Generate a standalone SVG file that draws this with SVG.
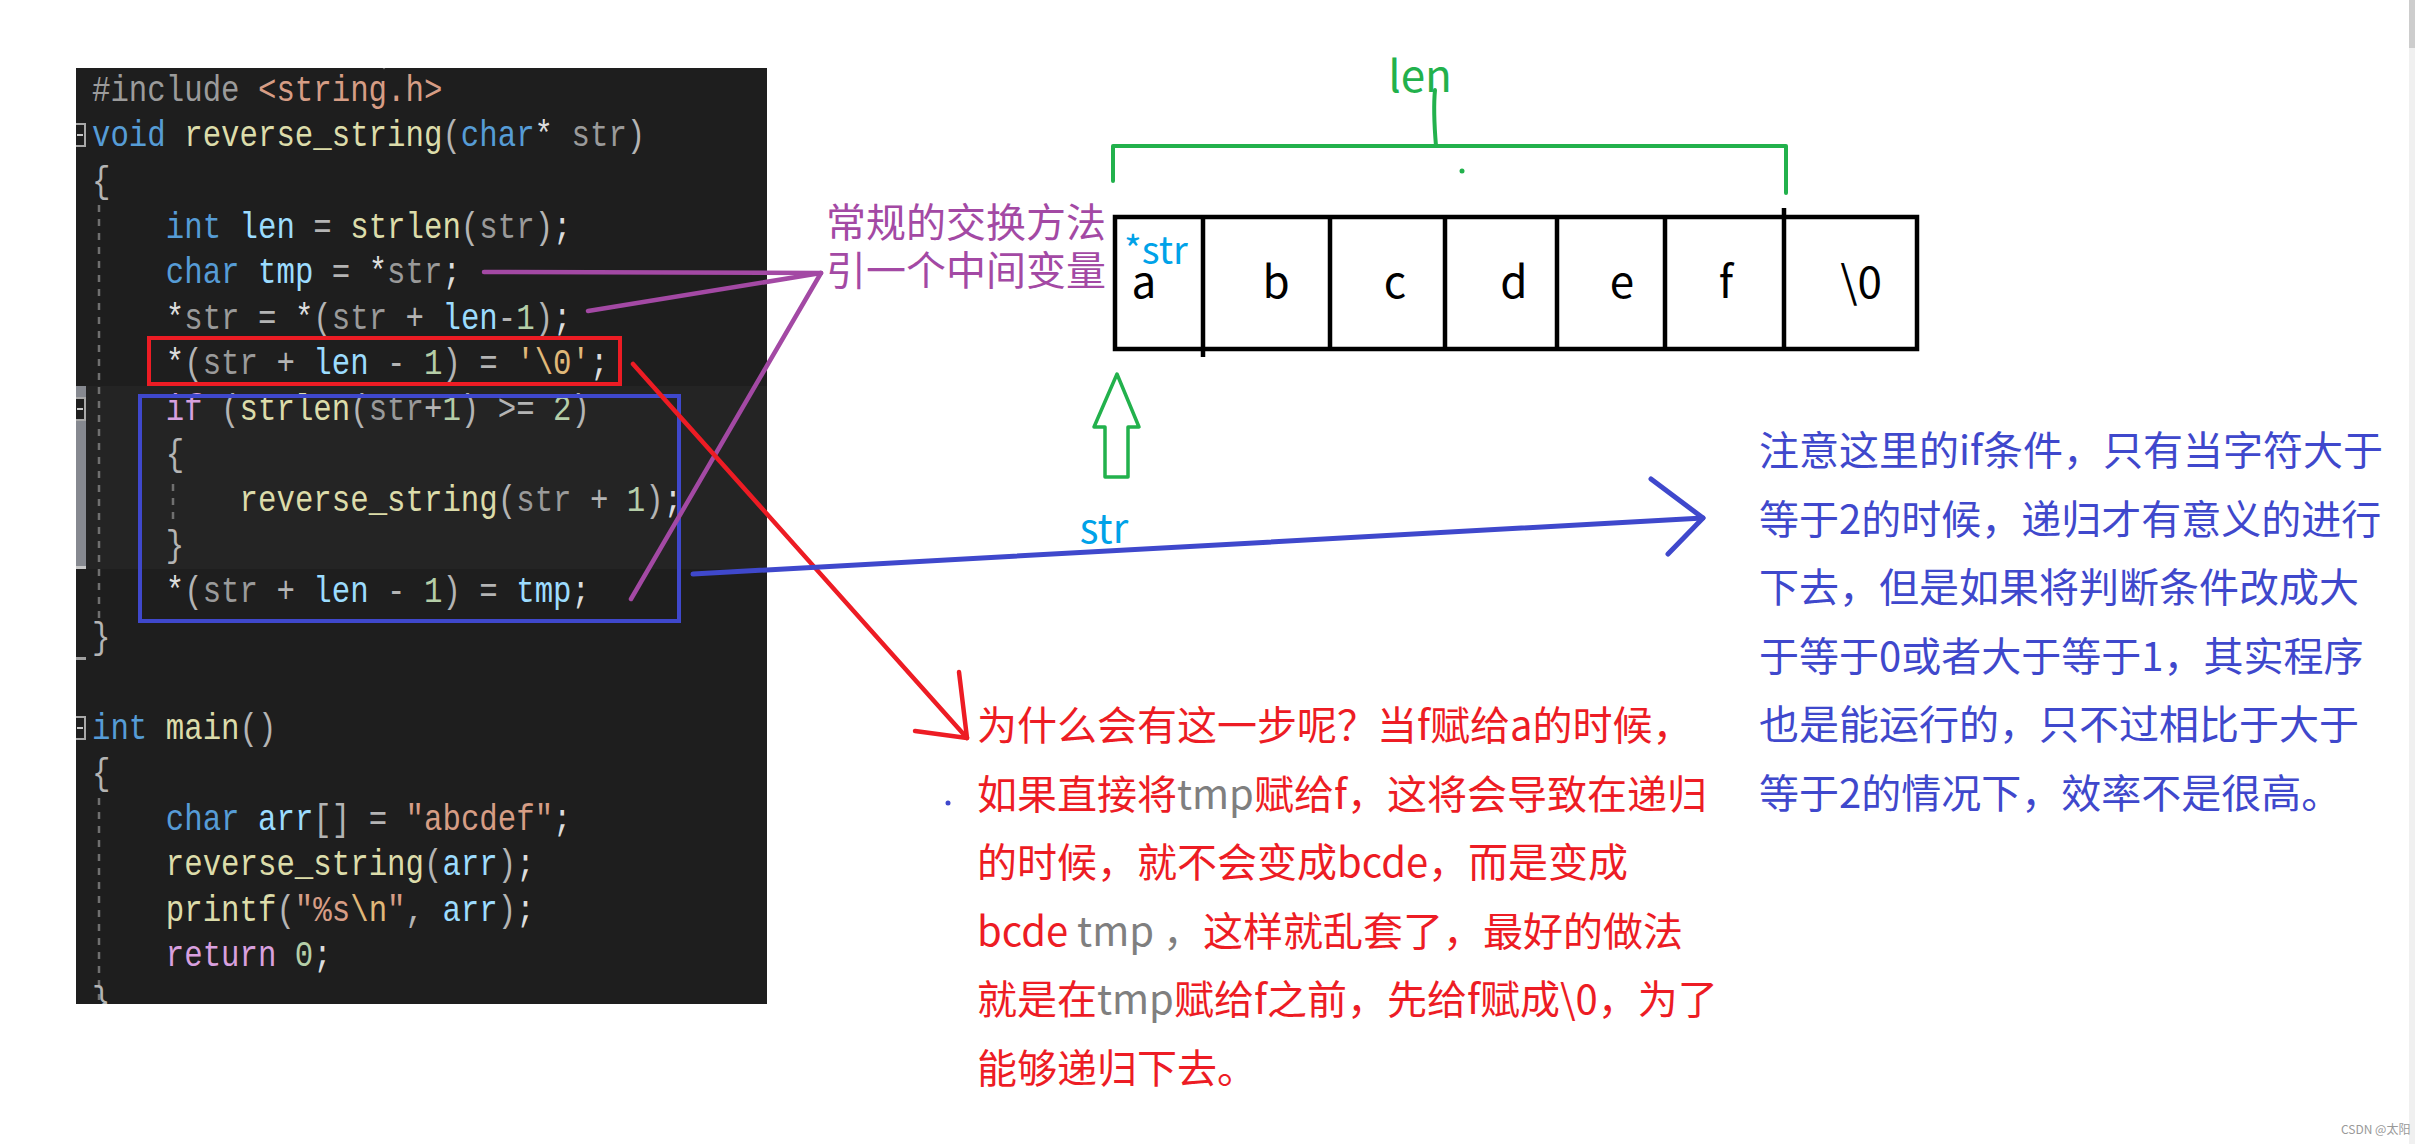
<svg xmlns="http://www.w3.org/2000/svg" width="2415" height="1144" viewBox="0 0 2415 1144">
<defs>
<style>
.code{font-family:"Liberation Mono","DejaVu Sans Mono",monospace;font-size:37px;fill:#b4b4b4}
.k{fill:#569cd6}.f{fill:#dcdcaa}.v{fill:#9cdcfe}.p{fill:#9a9a9a}.o{fill:#b4b4b4}.n{fill:#b5cea8}.s{fill:#d69d85}.e{fill:#e0b878}.c{fill:#d8a0df}.m{fill:#9b9b9b}.w{fill:#dcdcdc}
.note{font-family:"Noto Sans CJK SC","Liberation Sans",sans-serif;font-size:40px}
.lbl{font-family:"Noto Sans CJK SC","Liberation Sans",sans-serif}
.guide{stroke:#707070;stroke-width:2.5;stroke-dasharray:7 7;fill:none}
.fold{fill:#1e1e1e;stroke:#a8a8a8;stroke-width:2}
.pl{stroke:#a349a4;stroke-width:4.5;fill:none;stroke-linecap:round;stroke-linejoin:round}
.rl{stroke:#ed1c24;stroke-width:4.5;fill:none;stroke-linecap:round;stroke-linejoin:round}
.bl{stroke:#3f48cc;stroke-width:5;fill:none;stroke-linecap:round;stroke-linejoin:round}
.gl{stroke:#22b14c;stroke-width:4;fill:none;stroke-linecap:round;stroke-linejoin:round}
.cell{stroke:#000;stroke-width:4.5;fill:none}
.gray{fill:#7f7f7f}
</style>
<clipPath id="panelClip"><rect x="76" y="68" width="691" height="936"/></clipPath>
</defs>
<rect width="2415" height="1144" fill="#ffffff"/>
<rect x="2409" y="0" width="6" height="1144" fill="#f0f0f0"/>
<rect x="2409" y="0" width="6" height="48" fill="#cdcdcd"/>

<g id="code-panel" clip-path="url(#panelClip)">
<rect x="76" y="68" width="691" height="936" fill="#1e1e1e"/>
<rect x="86" y="386" width="681" height="183" fill="#242424"/>
<rect x="76" y="386" width="10" height="182" fill="#868990"/>
<rect x="76" y="566" width="10" height="3" fill="#c8c8c8"/>
<rect x="76" y="657" width="10" height="3" fill="#a0a0a0"/>
<rect x="75" y="124" width="10" height="22" class="fold"/>
<line x1="77" y1="135" x2="83" y2="135" stroke="#c8c8c8" stroke-width="2"/>
<rect x="75" y="398" width="10" height="22" class="fold"/>
<line x1="77" y1="409" x2="83" y2="409" stroke="#c8c8c8" stroke-width="2"/>
<rect x="75" y="717" width="10" height="22" class="fold"/>
<line x1="77" y1="728" x2="83" y2="728" stroke="#c8c8c8" stroke-width="2"/>
<line x1="99" y1="205" x2="99" y2="618" class="guide"/>
<line x1="173" y1="484" x2="173" y2="524" class="guide"/>
<line x1="99" y1="798" x2="99" y2="1000" class="guide"/>
<circle cx="384" cy="68" r="1.2" fill="#666"/>
<g transform="scale(0.831 1)" class="code" xml:space="preserve">
<text x="110.7" y="101"><tspan class="m">#include</tspan><tspan class="s"> &lt;string.h&gt;</tspan></text>
<text x="110.7" y="146.5"><tspan class="k">void</tspan><tspan class="f"> reverse_string</tspan><tspan class="o">(</tspan><tspan class="k">char</tspan><tspan class="w">*</tspan><tspan class="p"> str</tspan><tspan class="o">)</tspan></text>
<text x="110.7" y="192.1" class="o">{</text>
<text x="199.5" y="237.6"><tspan class="k">int</tspan><tspan class="v"> len</tspan><tspan class="o"> = </tspan><tspan class="f">strlen</tspan><tspan class="o">(</tspan><tspan class="p">str</tspan><tspan class="o">)</tspan><tspan class="w">;</tspan></text>
<text x="199.5" y="283.2"><tspan class="k">char</tspan><tspan class="v"> tmp</tspan><tspan class="o"> = </tspan><tspan class="w">*</tspan><tspan class="p">str</tspan><tspan class="w">;</tspan></text>
<text x="199.5" y="328.7"><tspan class="w">*</tspan><tspan class="p">str</tspan><tspan class="o"> = </tspan><tspan class="w">*</tspan><tspan class="o">(</tspan><tspan class="p">str</tspan><tspan class="o"> + </tspan><tspan class="v">len</tspan><tspan class="o">-</tspan><tspan class="n">1</tspan><tspan class="o">)</tspan><tspan class="w">;</tspan></text>
<text x="199.5" y="374.3"><tspan class="w">*</tspan><tspan class="o">(</tspan><tspan class="p">str</tspan><tspan class="o"> + </tspan><tspan class="v">len</tspan><tspan class="o"> - </tspan><tspan class="n">1</tspan><tspan class="o">) = </tspan><tspan class="e">'\0'</tspan><tspan class="w">;</tspan></text>
<text x="199.5" y="419.8"><tspan class="c">if</tspan><tspan class="o"> (</tspan><tspan class="f">strlen</tspan><tspan class="o">(</tspan><tspan class="p">str</tspan><tspan class="o">+</tspan><tspan class="n">1</tspan><tspan class="o">) &gt;= </tspan><tspan class="n">2</tspan><tspan class="o">)</tspan></text>
<text x="199.5" y="465.4" class="o">{</text>
<text x="288.3" y="510.9"><tspan class="f">reverse_string</tspan><tspan class="o">(</tspan><tspan class="p">str</tspan><tspan class="o"> + </tspan><tspan class="n">1</tspan><tspan class="o">)</tspan><tspan class="w">;</tspan></text>
<text x="199.5" y="556.5" class="o">}</text>
<text x="199.5" y="602"><tspan class="w">*</tspan><tspan class="o">(</tspan><tspan class="p">str</tspan><tspan class="o"> + </tspan><tspan class="v">len</tspan><tspan class="o"> - </tspan><tspan class="n">1</tspan><tspan class="o">) = </tspan><tspan class="v">tmp</tspan><tspan class="w">;</tspan></text>
<text x="110.7" y="647.6" class="o">}</text>
<text x="110.7" y="738.7"><tspan class="k">int</tspan><tspan class="f"> main</tspan><tspan class="o">()</tspan></text>
<text x="110.7" y="784.2" class="o">{</text>
<text x="199.5" y="829.8"><tspan class="k">char</tspan><tspan class="v"> arr</tspan><tspan class="o">[] = </tspan><tspan class="s">"abcdef"</tspan><tspan class="w">;</tspan></text>
<text x="199.5" y="875.3"><tspan class="f">reverse_string</tspan><tspan class="o">(</tspan><tspan class="v">arr</tspan><tspan class="o">)</tspan><tspan class="w">;</tspan></text>
<text x="199.5" y="920.9"><tspan class="f">printf</tspan><tspan class="o">(</tspan><tspan class="s">"%s</tspan><tspan class="e">\n</tspan><tspan class="s">"</tspan><tspan class="o">, </tspan><tspan class="v">arr</tspan><tspan class="o">)</tspan><tspan class="w">;</tspan></text>
<text x="199.5" y="966.4"><tspan class="c">return</tspan><tspan class="n"> 0</tspan><tspan class="w">;</tspan></text>
<text x="110.7" y="1012" class="o">}</text>
</g>
</g>

<g id="highlight-boxes">
<rect id="red-box" x="149" y="338" width="471" height="46" fill="none" stroke="#ed1c24" stroke-width="4"/>
<rect id="blue-box" x="140" y="396" width="539" height="225" fill="none" stroke="#3f48cc" stroke-width="4"/>
</g>

<g id="array">
<rect x="1115" y="217" width="802" height="132" class="cell"/>
<line x1="1203" y1="217" x2="1203" y2="357" class="cell"/>
<line x1="1330" y1="217" x2="1330" y2="349" class="cell"/>
<line x1="1445" y1="217" x2="1445" y2="349" class="cell"/>
<line x1="1557" y1="217" x2="1557" y2="349" class="cell"/>
<line x1="1665" y1="217" x2="1665" y2="349" class="cell"/>
<line x1="1784" y1="208" x2="1784" y2="349" class="cell"/>
<g class="lbl" font-size="44" fill="#000" text-anchor="middle">
<text x="1144" y="298">a</text>
<text x="1276" y="298">b</text>
<text x="1395" y="298">c</text>
<text x="1514" y="298">d</text>
<text x="1622" y="298">e</text>
<text x="1726" y="298">f</text>
<text x="1861" y="298">\0</text>
</g>
<text x="1124" y="264" class="lbl" font-size="38" fill="#00a2e8">*str</text>
</g>

<g id="len-bracket">
<path d="M1113,181 L1113,146 L1786,146 L1786,193" class="gl"/>
<path d="M1435,90 Q1433,110 1436,146" class="gl"/>
<circle cx="1462" cy="171" r="2.5" fill="#22b14c"/>
<text x="1420" y="92" class="lbl" font-size="44" fill="#22b14c" text-anchor="middle">len</text>
</g>

<g id="str-pointer">
<polygon points="1117,374 1139,427 1128,427 1128,477 1105,477 1105,427 1094,427" fill="none" stroke="#22b14c" stroke-width="3.5" stroke-linejoin="round"/>
<text x="1104" y="543" class="lbl" font-size="40" fill="#00a2e8" text-anchor="middle">str</text>
</g>

<g id="purple-note" class="note" fill="#a349a4">
<text x="826" y="237">常规的交换方法</text>
<text x="826" y="285">引一个中间变量</text>
</g>

<g id="red-note" class="note" fill="#ed1c24">
<text x="977" y="740">为什么会有这一步呢？当f赋给a的时候，</text>
<text x="977" y="808.6">如果直接将<tspan class="gray">tmp</tspan>赋给f，这将会导致在递归</text>
<text x="977" y="877.2">的时候，就不会变成bcde，而是变成</text>
<text x="977" y="945.8" xml:space="preserve">bcde<tspan class="gray"> tmp ，</tspan>这样就乱套了，最好的做法</text>
<text x="977" y="1014.4">就是在<tspan class="gray">tmp</tspan>赋给f之前，先给f赋成\0，为了</text>
<text x="977" y="1083">能够递归下去。</text>
</g>
<circle cx="948" cy="803" r="2.5" fill="#3f48cc"/>

<g id="blue-note" class="note" fill="#3f48cc">
<text x="1759" y="465">注意这里的if条件，只有当字符大于</text>
<text x="1759" y="533.6">等于2的时候，递归才有意义的进行</text>
<text x="1759" y="602.2">下去，但是如果将判断条件改成大</text>
<text x="1759" y="670.8">于等于0或者大于等于1，其实程序</text>
<text x="1759" y="739.4">也是能运行的，只不过相比于大于</text>
<text x="1759" y="808">等于2的情况下，效率不是很高。</text>
</g>

<g id="connectors">
<path d="M484,272 L821,273" class="pl"/>
<path d="M588,311 L821,273" class="pl"/>
<path d="M631,599 L821,273" class="pl"/>
<path d="M633,364 L967,738" class="rl"/>
<path d="M959,672 L967,738 L915,731" class="rl"/>
<path d="M693,574 L1703,518" class="bl"/>
<path d="M1651,479 L1703,518 L1668,554" class="bl"/>
</g>

<text x="2341" y="1134" class="lbl" font-size="12" fill="#999999">CSDN @太阳</text>
</svg>
